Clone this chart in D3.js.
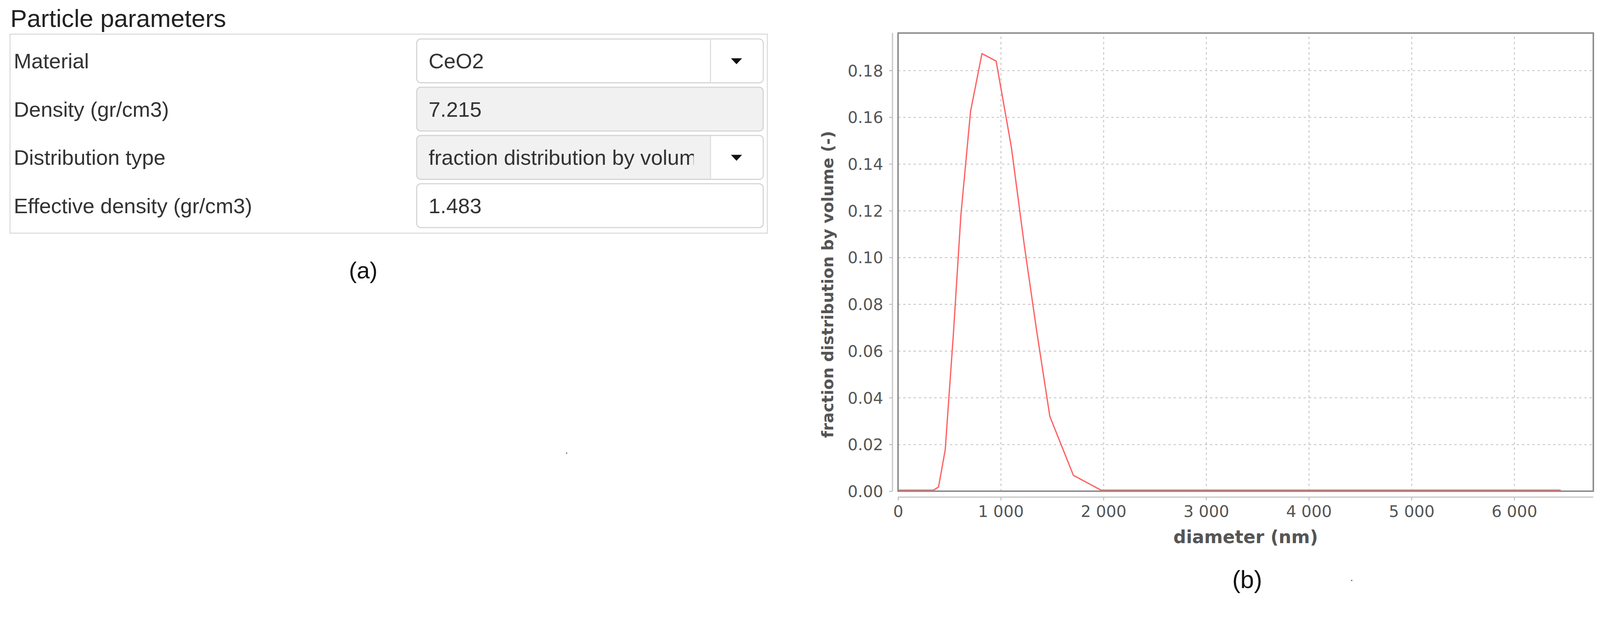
<!DOCTYPE html>
<html>
<head>
<meta charset="utf-8">
<script src="https://cdn.jsdelivr.net/npm/d3@7"></script>
<style>
  html, body { margin: 0; padding: 0; background: #fff; overflow: hidden; }
  svg { display: block; width: 100vw; height: 100vh; }
</style>
</head>
<body>
<svg id="fig" viewBox="0 0 4308 1616" preserveAspectRatio="xMinYMin meet"></svg>
<script>
// particle parameter form (a)
const paramLabels = ["Material", "Density (gr/cm3)", "Distribution type", "Effective density (gr/cm3)"]
const paramValues = ["CeO2", "7.215", "fraction distribution by volume", "1.483"]
const paramDropdown = [true, false, true, false]
const paramDisabled = [false, true, true, false]

// size distribution (b)
const diameterNm = [0, 344, 394, 459, 538, 612, 706, 817, 955, 1104, 1230, 1350, 1478, 1707, 1978, 2500, 3000, 3500, 4000, 4500, 5000, 5566, 6000, 6452]
const fractionByVolume = [0.0004, 0.0004, 0.0018, 0.0176, 0.0667, 0.1182, 0.1625, 0.1872, 0.184, 0.147, 0.105, 0.0685, 0.032, 0.0068, 0.0004, 0.0004, 0.0004, 0.0004, 0.0004, 0.0004, 0.0004, 0.0004, 0.0004, 0.0004]
const xTicks = [0, 1000, 2000, 3000, 4000, 5000, 6000]
const yTicks = [0, 0.02, 0.04, 0.06, 0.08, 0.10, 0.12, 0.14, 0.16, 0.18]

const svg = d3.select("#fig")

function drawForm(){
    const font = "'Liberation Sans', Arial, sans-serif"
    svg.append("text")
        .attr("x", 28).attr("y", 73)
        .style("font-family", font).style("font-size", "67px").attr("fill", "#222")
        .text("Particle parameters")

    svg.append("rect")
        .attr("x", 27).attr("y", 92).attr("width", 2039).attr("height", 536)
        .attr("fill", "#fff").attr("stroke", "#ddd").attr("stroke-width", 3)

    svg.append("defs").append("clipPath").attr("id", "clip-select")
        .append("rect").attr("x", 1122).attr("y", 0).attr("width", 746).attr("height", 1616)

    const rows = svg.append("g").attr("class", "rows")
        .selectAll("g")
        .data(paramLabels)
        .enter()
        .append("g")
        .attr("transform", (d, i) => `translate(0,${105 + i * 130})`)

    rows.append("text")
        .attr("x", 37).attr("y", 79)
        .style("font-family", font).style("font-size", "57px").attr("fill", "#333")
        .text(d => d)

    // input box
    rows.append("rect")
        .attr("x", 1122).attr("y", 0).attr("width", 933).attr("height", 118)
        .attr("rx", 11)
        .attr("fill", (d, i) => paramDisabled[i] ? "#f1f1f1" : "#fff")
        .attr("stroke", "#d4d4d4").attr("stroke-width", 3)

    // white button part of the dropdowns
    rows.filter((d, i) => paramDropdown[i])
        .append("path")
        .attr("d", "M1913,1.5 H2044 Q2053.5,1.5 2053.5,11 V107 Q2053.5,116.5 2044,116.5 H1913 Z")
        .attr("fill", "#fff")
    rows.filter((d, i) => paramDropdown[i])
        .append("line")
        .attr("x1", 1913).attr("x2", 1913).attr("y1", 2).attr("y2", 116)
        .attr("stroke", "#ddd").attr("stroke-width", 3)
    rows.filter((d, i) => paramDropdown[i])
        .append("path")
        .attr("d", "M1968,52 L1998,52 L1983,68 Z")
        .attr("fill", "#111")

    rows.append("text")
        .attr("x", 1154).attr("y", 79)
        .attr("clip-path", "url(#clip-select)")
        .style("font-family", font).style("font-size", "57px").attr("fill", "#333")
        .text((d, i) => paramValues[i])

    svg.append("text")
        .attr("x", 978).attr("y", 750).attr("text-anchor", "middle")
        .style("font-family", font).style("font-size", "63px").attr("fill", "#111")
        .text("(a)")
}

function drawChart(){
    const font = "'DejaVu Sans', sans-serif"
    const left = 2418, right = 4290, top = 89, bottom = 1323

    const x = d3.scaleLinear().domain([0, 6770]).range([left, right])
    const y = d3.scaleLinear().domain([0, 0.196]).range([bottom, top])

    const spaced = d3.formatLocale({decimal: ".", thousands: " ", grouping: [3], currency: ["", ""]})

    // grid
    svg.append("g")
        .attr("transform", `translate(0,${bottom})`)
        .call(d3.axisBottom(x).tickValues(xTicks.slice(1)).tickSize(-(bottom - top)).tickFormat(""))
        .call(g => g.select(".domain").remove())
        .selectAll("line")
        .attr("stroke", "#c4c4c4").attr("stroke-width", 2.5).attr("stroke-dasharray", "6,8")
    svg.append("g")
        .attr("transform", `translate(${left},0)`)
        .call(d3.axisLeft(y).tickValues(yTicks.slice(1)).tickSize(-(right - left)).tickFormat(""))
        .call(g => g.select(".domain").remove())
        .selectAll("line")
        .attr("stroke", "#c4c4c4").attr("stroke-width", 2.5).attr("stroke-dasharray", "6,8")

    const line = d3.line()
        .x((d, i) => x(d))
        .y((d, i) => y(fractionByVolume[i]))

    svg.append("path")
        .datum(diameterNm)
        .attr("d", line)
        .attr("fill", "none")
        .attr("stroke", "#ff6464")
        .attr("stroke-width", 3.5)
        .attr("stroke-linejoin", "round")

    // plot outline
    svg.append("rect")
        .attr("x", left).attr("y", top).attr("width", right - left).attr("height", bottom - top)
        .attr("fill", "none").attr("stroke", "#8a8a8a").attr("stroke-width", 4)

    // offset axes
    const yAxis = svg.append("g")
        .attr("transform", "translate(2403,0)")
        .call(d3.axisLeft(y).tickValues(yTicks).tickSize(9).tickPadding(16).tickFormat(d3.format(".2f")))
    yAxis.select(".domain").attr("d", `M0,${top}V${bottom}`)
    const xAxis = svg.append("g")
        .attr("transform", "translate(0,1339)")
        .call(d3.axisBottom(x).tickValues(xTicks).tickSize(9).tickPadding(14).tickFormat(spaced.format(",")))
    xAxis.select(".domain").attr("d", `M${left},0H${right}`)

    svg.selectAll(".tick text")
        .style("font-family", font).style("font-size", "43px").attr("fill", "#555")
    yAxis.selectAll(".tick text").attr("dy", "0.36em")
    svg.selectAll(".domain").attr("stroke", "#c8c8c8").attr("stroke-width", 3.5)
    yAxis.selectAll(".tick line").attr("stroke", "#bbb").attr("stroke-width", 2.5)
    xAxis.selectAll(".tick line").attr("stroke", "#bbb").attr("stroke-width", 2.5)

    svg.append("text")
        .attr("x", (left + right) / 2).attr("y", 1463).attr("text-anchor", "middle")
        .style("font-family", font).style("font-size", "48px").style("font-weight", "bold")
        .attr("fill", "#555")
        .text("diameter (nm)")

    svg.append("text")
        .attr("transform", "translate(2243,766) rotate(-90)")
        .attr("text-anchor", "middle")
        .style("font-family", font).style("font-size", "43px").style("font-weight", "bold")
        .attr("fill", "#555")
        .text("fraction distribution by volume (-)")

    svg.append("text")
        .attr("x", 3358).attr("y", 1584).attr("text-anchor", "middle")
        .style("font-family", "'Liberation Sans', Arial, sans-serif").style("font-size", "66px").attr("fill", "#111")
        .text("(b)")

    // stray specks in the scan
    svg.append("rect").attr("x", 1524).attr("y", 1219).attr("width", 3).attr("height", 3).attr("fill", "#555")
    svg.append("rect").attr("x", 3638).attr("y", 1562).attr("width", 3).attr("height", 3).attr("fill", "#555")
}

drawForm()
drawChart()
</script>
</body>
</html>
